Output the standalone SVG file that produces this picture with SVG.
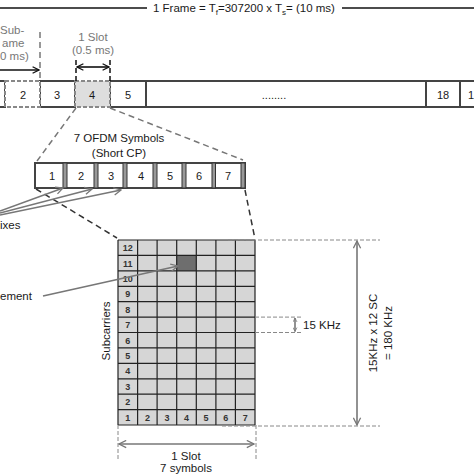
<svg xmlns="http://www.w3.org/2000/svg" width="474" height="474" viewBox="0 0 474 474">
<style>
text{font-family:"Liberation Sans",Arial,sans-serif;fill:#1a1a1a}
.t{font-size:11.5px}
.g{fill:#777}
.n{font-size:11px;text-anchor:middle}
.s{font-size:9px;text-anchor:middle;font-weight:bold;fill:#333}
.box{fill:#fff;stroke:#444;stroke-width:2}
.dash{fill:none;stroke:#777;stroke-width:1.5;stroke-dasharray:6,4}
.gdash{fill:none;stroke:#888;stroke-width:1;stroke-dasharray:4,2}
.garr{stroke:#777;stroke-width:1.6;fill:none}
.cp{fill:#999;stroke:#333;stroke-width:1}
</style>
<defs>
<marker id="ab" viewBox="0 0 10 10" refX="9" refY="5" markerWidth="8" markerHeight="8" orient="auto-start-reverse" markerUnits="userSpaceOnUse"><path d="M1,1 L9,5 L1,9" fill="none" stroke="#111" stroke-width="1.6"/></marker>
<marker id="ag" viewBox="0 0 10 10" refX="9" refY="5" markerWidth="9" markerHeight="9" orient="auto-start-reverse" markerUnits="userSpaceOnUse"><path d="M1,1 L9,5 L1,9" fill="none" stroke="#777" stroke-width="1.4"/></marker>
<marker id="as" viewBox="0 0 10 10" refX="9" refY="5" markerWidth="5" markerHeight="5" orient="auto-start-reverse" markerUnits="userSpaceOnUse"><path d="M1,1 L9,5 L1,9" fill="none" stroke="#777" stroke-width="1.5"/></marker>
</defs>

<g id="title">
<line x1="0" y1="8" x2="147" y2="8" stroke="#111" stroke-width="1.5"/>
<line x1="342" y1="8" x2="474" y2="8" stroke="#111" stroke-width="1.5"/>
<text class="t" x="153" y="12">1 Frame = T<tspan font-size="8" dy="3">f</tspan><tspan dy="-3">=307200 x T</tspan><tspan font-size="8" dy="3">s</tspan><tspan dy="-3">= (10 ms)</tspan></text>
</g>

<g id="subframe-label">
<text class="t g" x="0" y="34">Sub-</text>
<text class="t g" x="2" y="47">ame</text>
<text class="t g" x="0" y="60">0 ms)</text>
</g>

<g id="slot-label">
<text class="t g" x="93" y="41" text-anchor="middle">1 Slot</text>
<text class="t g" x="93" y="54" text-anchor="middle">(0.5 ms)</text>
</g>

<g id="frame-row">
<rect class="box" x="-3" y="81" width="8" height="26"/>
<rect class="box" x="40" y="81" width="35" height="26"/>
<rect class="box" x="110" y="81" width="36" height="26"/>
<rect class="box" x="146" y="81" width="280" height="26"/>
<rect class="box" x="426" y="81" width="34" height="26"/>
<rect class="box" x="460" y="81" width="20" height="26"/>
<rect x="5" y="81" width="35" height="26" fill="#fff" stroke="#888" stroke-width="2" stroke-dasharray="4,2"/>
<rect x="75" y="81" width="35" height="26" fill="#dedede" stroke="#888" stroke-width="2" stroke-dasharray="4,2"/>
<text class="n" x="23" y="99">2</text>
<text class="n" x="57" y="99">3</text>
<text class="n" x="92" y="99">4</text>
<text class="n" x="128" y="99">5</text>
<text class="n" x="274" y="99">........</text>
<text class="n" x="443" y="99">18</text>
<text class="n" x="471" y="99">1</text>
</g>

<g id="ofdm-label">
<text class="t" x="119" y="142" text-anchor="middle">7 OFDM Symbols</text>
<text class="t" x="119" y="157" text-anchor="middle">(Short CP)</text>
</g>

<g id="ofdm-row">
<rect class="box" x="35" y="163" width="210" height="25"/>
<rect class="cp" x="63" y="163" width="4" height="25"/>
<rect class="cp" x="94" y="163" width="4" height="25"/>
<rect class="cp" x="123" y="163" width="4" height="25"/>
<rect class="cp" x="153" y="163" width="4" height="25"/>
<rect class="cp" x="182" y="163" width="4" height="25"/>
<rect class="cp" x="212" y="163" width="3.5" height="25"/>
<rect class="cp" x="241" y="163" width="4" height="25"/>
<text class="n" x="52" y="180">1</text>
<text class="n" x="81" y="180">2</text>
<text class="n" x="111" y="180">3</text>
<text class="n" x="141" y="180">4</text>
<text class="n" x="170" y="180">5</text>
<text class="n" x="199" y="180">6</text>
<text class="n" x="228" y="180">7</text>
</g>

<g id="cp-label">
<text class="t" x="0" y="229">ixes</text>
</g>

<g id="re-label">
<text class="t" x="0" y="300">ement</text>
</g>

<g id="resource-grid">
<rect x="118" y="240" width="137" height="185" fill="#d6d6d6"/>
<rect x="176.7" y="255.4" width="19.6" height="15.4" fill="#6e6e6e"/>
<path d="M118,240V425M137.6,240V425M157.1,240V425M176.7,240V425M196.3,240V425M215.9,240V425M235.4,240V425M255,240V425" stroke="#222" stroke-width="1.2"/>
<path d="M118,240H255M118,255.4H255M118,270.8H255M118,286.3H255M118,301.7H255M118,317.1H255M118,332.5H255M118,347.9H255M118,363.3H255M118,378.8H255M118,394.2H255M118,409.6H255M118,425H255" stroke="#222" stroke-width="1.2"/>
<text class="s" x="127.8" y="251">12</text>
<text class="s" x="127.8" y="266.5">11</text>
<text class="s" x="127.8" y="281.5">10</text>
<text class="s" x="127.8" y="297">9</text>
<text class="s" x="127.8" y="312.5">8</text>
<text class="s" x="127.8" y="328">7</text>
<text class="s" x="127.8" y="343.5">6</text>
<text class="s" x="127.8" y="358.5">5</text>
<text class="s" x="127.8" y="374">4</text>
<text class="s" x="127.8" y="389.5">3</text>
<text class="s" x="127.8" y="405">2</text>
<text class="s" x="127.8" y="420.5">1</text>
<text class="s" x="147.4" y="420.5">2</text>
<text class="s" x="166.9" y="420.5">3</text>
<text class="s" x="186.5" y="420.5">4</text>
<text class="s" x="206.1" y="420.5">5</text>
<text class="s" x="225.7" y="420.5">6</text>
<text class="s" x="245.2" y="420.5">7</text>
<text class="t" transform="translate(110,331) rotate(-90)" text-anchor="middle">Subcarriers</text>
</g>

<g id="dimension-labels">
<text class="t" x="303" y="329">15 KHz</text>
<text class="t" transform="translate(377,333) rotate(-90)" text-anchor="middle">15KHz x 12 SC</text>
<text class="t" transform="translate(392,333) rotate(-90)" text-anchor="middle">= 180 KHz</text>
<text class="t" x="186" y="460" text-anchor="middle">1 Slot</text>
<text class="t" x="186" y="472" text-anchor="middle">7 symbols</text>
</g>

<g id="connectors">
<line x1="0" y1="70" x2="39" y2="70" stroke="#111" stroke-width="1.6" marker-end="url(#ab)"/>
<line x1="40" y1="32" x2="40" y2="81" class="dash"/>
<line x1="76" y1="60" x2="76" y2="81" stroke="#111" stroke-width="1.5" stroke-dasharray="5,3"/>
<line x1="110" y1="60" x2="110" y2="81" stroke="#111" stroke-width="1.5" stroke-dasharray="5,3"/>
<line x1="77" y1="67" x2="109" y2="67" stroke="#111" stroke-width="1.6" marker-start="url(#ab)" marker-end="url(#ab)"/>
<line x1="76" y1="108" x2="37" y2="161" class="dash"/>
<line x1="110" y1="108" x2="243" y2="160" class="dash"/>
<line x1="36" y1="189" x2="117" y2="238" stroke="#333" stroke-width="1.5" stroke-dasharray="6,4"/>
<line x1="245" y1="190" x2="255" y2="239" stroke="#333" stroke-width="1.5" stroke-dasharray="6,4"/>
<line x1="0" y1="211" x2="63" y2="188" class="garr" marker-end="url(#ag)"/>
<line x1="0" y1="213" x2="92" y2="189" class="garr" marker-end="url(#ag)"/>
<line x1="0" y1="215" x2="121" y2="190" class="garr" marker-end="url(#ag)"/>
<line x1="43" y1="296" x2="178" y2="266" class="garr" marker-end="url(#ag)"/>
<line x1="228" y1="240" x2="380" y2="240" class="gdash"/>
<line x1="222" y1="426" x2="380" y2="426" class="gdash"/>
<line x1="255" y1="317.1" x2="303" y2="317.1" class="gdash"/>
<line x1="255" y1="332.5" x2="303" y2="332.5" class="gdash"/>
<line x1="118" y1="425" x2="118" y2="461" class="gdash"/>
<line x1="256" y1="425" x2="256" y2="461" class="gdash"/>
<line x1="295" y1="318" x2="295" y2="331.5" class="garr" stroke-width="1" marker-start="url(#as)" marker-end="url(#as)"/>
<line x1="357" y1="241" x2="357" y2="425" class="garr" marker-start="url(#ag)" marker-end="url(#ag)"/>
<line x1="119" y1="444" x2="254" y2="444" class="garr" marker-start="url(#ag)" marker-end="url(#ag)"/>
</g>
</svg>
